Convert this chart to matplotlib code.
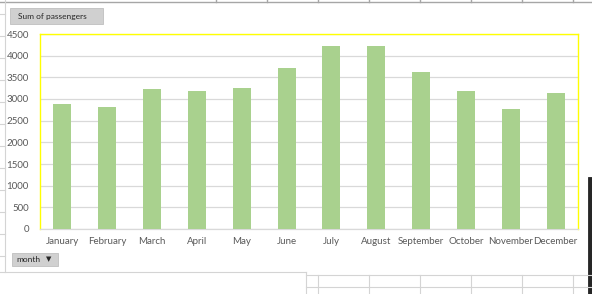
import matplotlib.pyplot as plt
from matplotlib.lines import Line2D
from matplotlib.patches import Rectangle

months = ['January', 'February', 'March', 'April', 'May', 'June', 'July',
          'August', 'September', 'October', 'November', 'December']
passengers = [2890, 2815, 3230, 3185, 3255, 3715, 4215, 4215, 3625, 3185, 2770, 3140]
y_ticks = [0, 500, 1000, 1500, 2000, 2500, 3000, 3500, 4000, 4500]

plt.rcParams['font.family'] = ['Lato', 'DejaVu Sans']

W, H = 592, 294
fig = plt.figure(figsize=(W / 100, H / 100), dpi=100)


def px(x0, y0, x1, y1, color='#d4d4d4', lw=0.8):
    # line in screen pixel coords (y down)
    fig.add_artist(Line2D([x0 / W, x1 / W], [1 - y0 / H, 1 - y1 / H],
                          color=color, lw=lw, transform=fig.transFigure))


def box(x0, y0, x1, y1, fc, ec=None, lw=0.6):
    fig.add_artist(Rectangle((x0 / W, 1 - y1 / H), (x1 - x0) / W, (y1 - y0) / H,
                             transform=fig.transFigure, facecolor=fc,
                             edgecolor=ec if ec else fc, lw=lw))


# spreadsheet background
px(0, 2, 592, 2, '#a6a6a6', 1.0)
for x in [216, 267, 318, 369, 420, 471, 522, 573]:
    px(x, 0, x, 2, '#a6a6a6', 1.0)
px(5, 0, 5, 272)
for y in range(14, 272, 22):
    px(0, y, 5, y)
px(0, 272, 306, 272)
px(306, 272, 306, 294)
px(306, 275, 592, 275)
px(306, 287, 592, 287)
for x in [318, 369, 420, 471, 522, 573]:
    px(x, 275, x, 294)
box(588, 177, 592, 294, '#262626')

# pivot buttons
box(10, 8, 103, 24, '#d0d0d0', '#bfbfbf')
fig.text(18 / W, 1 - 16 / H, 'Sum of passengers', fontsize=6, color='#262626',
         va='center', ha='left')
box(12, 253, 58, 266, '#d0d0d0', '#bfbfbf')
fig.text(16 / W, 1 - 259.5 / H, 'month', fontsize=6, color='#262626',
         va='center', ha='left')
fig.text(49 / W, 1 - 259.5 / H, '\u25bc', fontsize=5, color='#262626',
         va='center', ha='center', family='DejaVu Sans')

ax = fig.add_axes([40 / W, 1 - 229 / H, 538 / W, 195 / H])
ax.bar(range(len(months)), passengers, width=0.4, color='#a9d18e', zorder=3)
ax.set_xlim(-0.5, len(months) - 0.5)
ax.set_ylim(0, 4500)
ax.set_yticks(y_ticks)
ax.set_xticks(range(len(months)))
ax.set_xticklabels(months)
ax.tick_params(axis='both', length=0, labelsize=7, colors='#595959')
ax.tick_params(axis='y', pad=8)
ax.tick_params(axis='x', pad=6)
ax.grid(axis='y', color='#d9d9d9', lw=0.9, zorder=0)
for s in ['top', 'left', 'right']:
    ax.spines[s].set_color('#ffff00')
    ax.spines[s].set_linewidth(1.0)
ax.spines['bottom'].set_color('#d9d9d9')
ax.spines['bottom'].set_linewidth(0.9)

fig.savefig('out.png', dpi=100)
